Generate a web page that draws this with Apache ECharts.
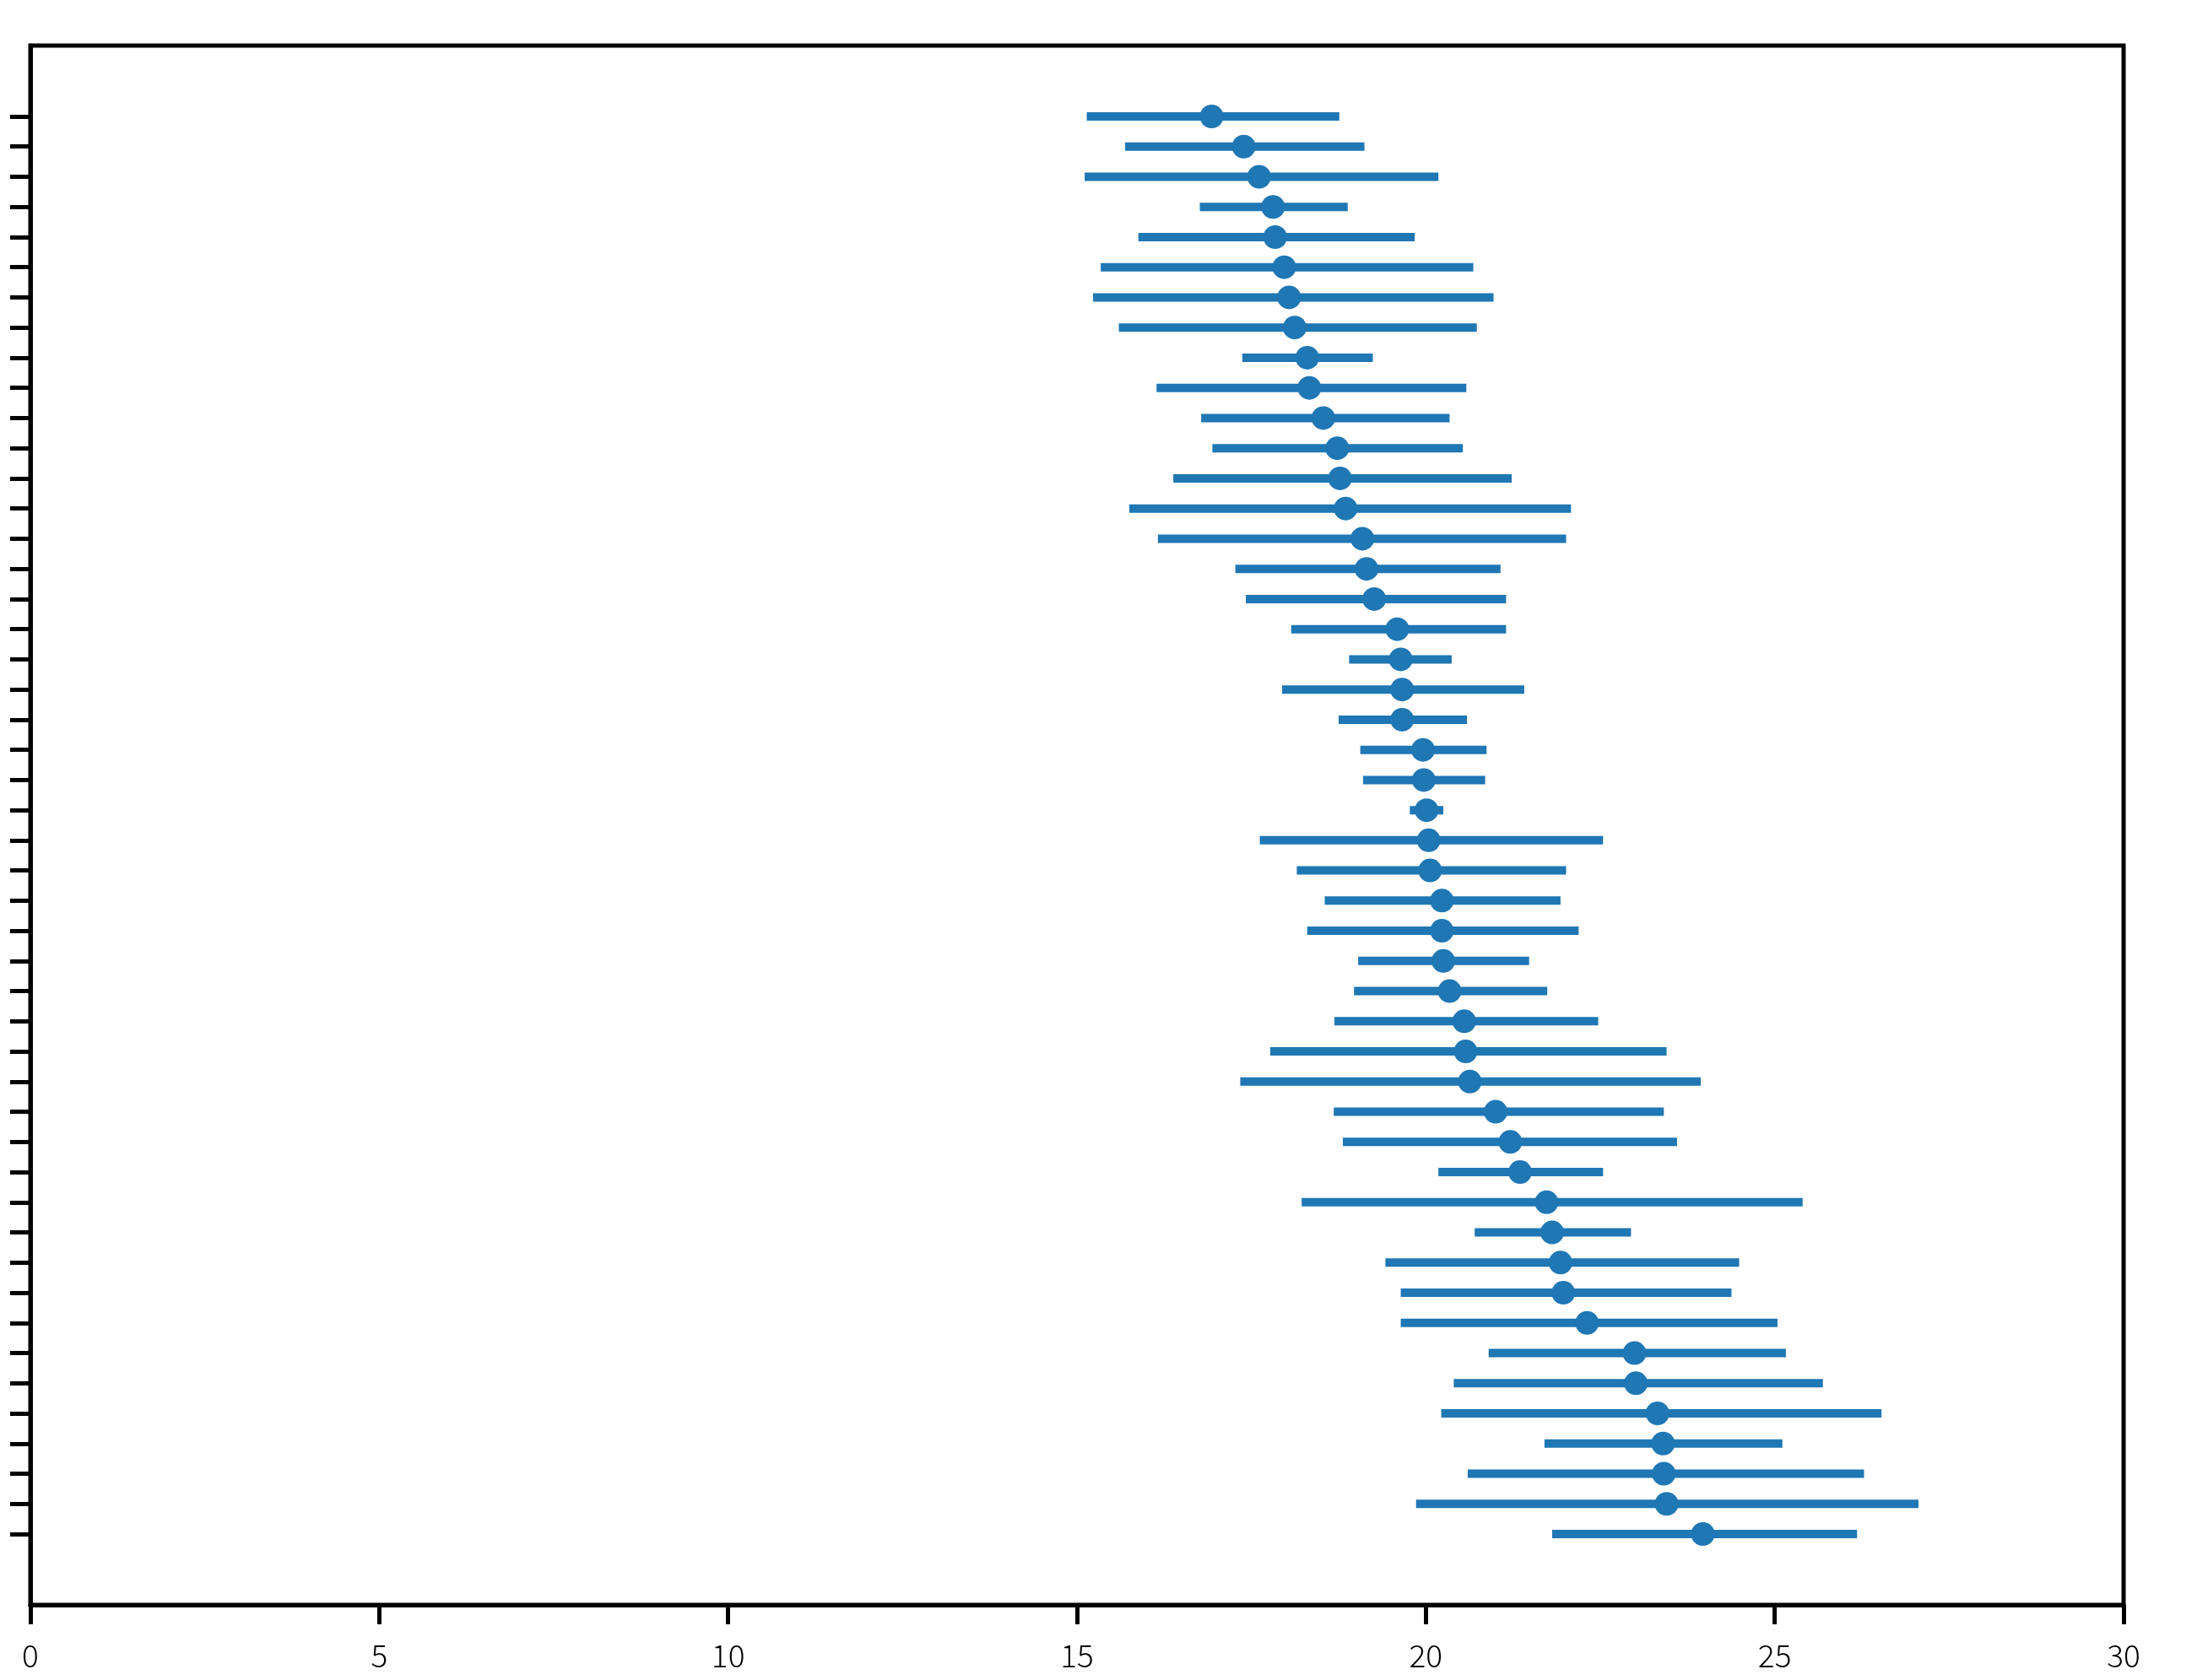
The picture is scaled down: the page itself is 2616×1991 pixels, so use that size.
<!DOCTYPE html>
<html>
<head>
<meta charset="utf-8">
<script src="https://cdn.jsdelivr.net/npm/echarts@6/dist/echarts.min.js"></script>
<style>
html,body{margin:0;padding:0;background:#fff;}
#chart{width:2616px;height:1991px;}
</style>
</head>
<body>
<div id="chart"></div>
<script>
// Row order: top to bottom
const means = [16.93, 17.39, 17.61, 17.81, 17.84, 17.97, 18.04, 18.12, 18.30, 18.33, 18.53, 18.73,
  18.77, 18.85, 19.09, 19.15, 19.26, 19.59, 19.64, 19.66, 19.66, 19.96, 19.97, 20.01,
  20.04, 20.06, 20.23, 20.23, 20.25, 20.34, 20.55, 20.57, 20.63, 21.00, 21.21, 21.35,
  21.73, 21.81, 21.93, 21.97, 22.31, 22.99, 23.01, 23.32, 23.40, 23.41, 23.45, 23.97];
const lowers = [15.14, 15.69, 15.11, 16.76, 15.88, 15.34, 15.23, 15.60, 17.37, 16.14, 16.78, 16.94,
  16.38, 15.75, 16.16, 17.27, 17.42, 18.07, 18.90, 17.94, 18.75, 19.06, 19.10, 19.77,
  17.62, 18.15, 18.55, 18.30, 19.03, 18.97, 18.69, 17.77, 17.34, 18.68, 18.81, 20.18,
  18.22, 20.70, 19.42, 19.64, 19.64, 20.90, 20.40, 20.22, 21.70, 20.60, 19.86, 21.81];
const uppers = [18.76, 19.12, 20.18, 18.88, 19.84, 20.68, 20.97, 20.73, 19.24, 20.58, 20.34, 20.53,
  21.23, 22.08, 22.01, 21.07, 21.15, 21.15, 20.37, 21.41, 20.59, 20.87, 20.85, 20.25,
  22.54, 22.01, 21.93, 22.19, 21.48, 21.74, 22.47, 23.45, 23.94, 23.41, 23.60, 22.54,
  25.40, 22.94, 24.49, 24.38, 25.04, 25.16, 25.69, 26.53, 25.11, 26.28, 27.06, 26.18];
const xTicks = [0, 5, 10, 15, 20, 25, 30];

const rowIdx = means.map((_, i) => i);
const barData = means.map((_, i) => [i, lowers[i], uppers[i]]);
const pointData = means.map((m, i) => [m, i]);
const n = means.length;
const pad = (n - 1) * 0.05;

const chart = echarts.init(document.getElementById('chart'), null, {renderer: 'canvas'});
chart.setOption({
  backgroundColor: '#ffffff',
  animation: false,
  grid: {left: 36, top: 54, width: 2480, height: 1848, show: true, borderColor: '#000', borderWidth: 5, backgroundColor: 'transparent'},
  xAxis: {
    type: 'value', min: xTicks[0], max: xTicks[xTicks.length - 1], interval: 5,
    splitLine: {show: false},
    axisLine: {show: true, onZero: false, lineStyle: {color: '#000', width: 5}},
    axisTick: {show: true, inside: false, length: 23, lineStyle: {color: '#000', width: 5}},
    axisLabel: {show: true, color: '#000', fontSize: 37, margin: 41, fontFamily: 'Noto Sans CJK JP', fontWeight: 300,
      formatter: v => String(v)}
  },
  yAxis: {
    type: 'value', min: -pad, max: (n - 1) + pad, inverse: true,
    splitLine: {show: false},
    axisLine: {show: true, onZero: false, lineStyle: {color: '#000', width: 5}},
    axisTick: {show: true, inside: false, length: 24, lineStyle: {color: '#000', width: 5}, customValues: rowIdx},
    axisLabel: {show: false}
  },
  series: [
    {
      type: 'custom',
      data: barData,
      encode: {x: [1, 2], y: 0},
      renderItem: function (params, api) {
        const y = api.value(0);
        const p1 = api.coord([api.value(1), y]);
        const p2 = api.coord([api.value(2), y]);
        return {type: 'line', shape: {x1: p1[0], y1: p1[1], x2: p2[0], y2: p2[1]},
          style: {stroke: '#1f77b4', lineWidth: 10, lineCap: 'butt'}};
      },
      z: 2
    },
    {
      type: 'scatter',
      data: pointData,
      symbol: 'circle',
      symbolSize: 28,
      itemStyle: {color: '#1f77b4', opacity: 1},
      z: 3
    }
  ]
});
</script>
</body>
</html>
